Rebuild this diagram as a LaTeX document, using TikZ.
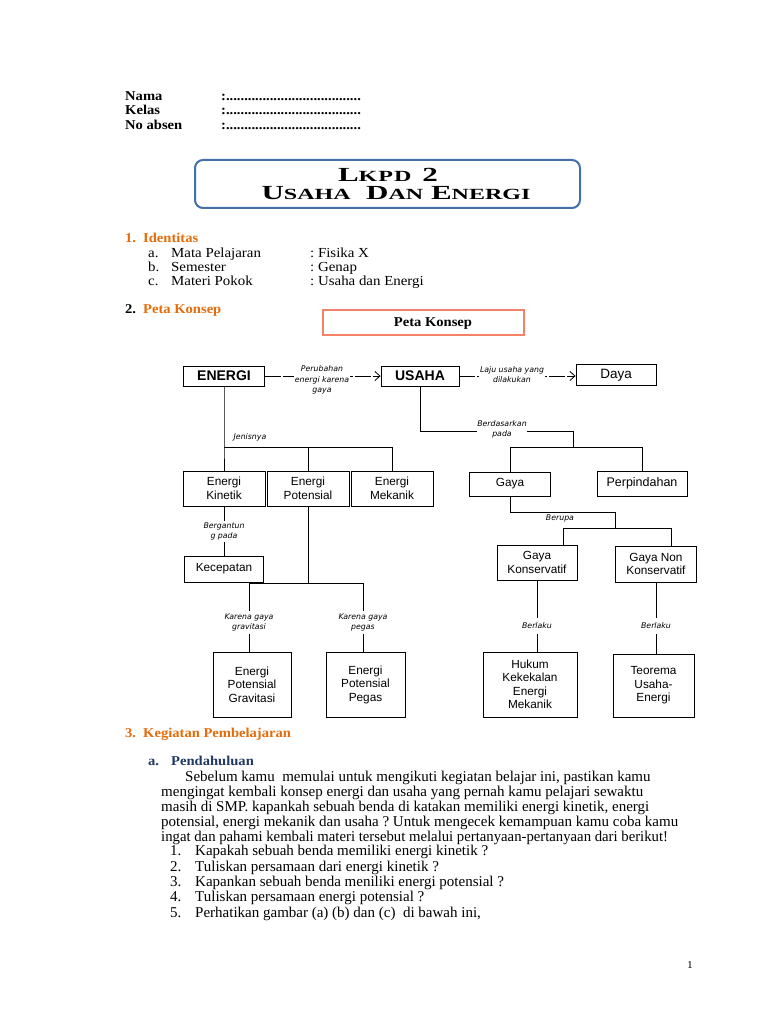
\documentclass[tikz,border=0pt]{standalone}
\usepackage{fontspec}
\setmainfont{Liberation Serif}
\newfontfamily\cambfam[FakeStretch=1.08]{Liberation Serif}
\newfontfamily\copperfam[FakeStretch=1.55]{Liberation Serif}
\newfontfamily\arialfam{Liberation Sans}
\newfontfamily\verdfam{DejaVu Sans}
\usetikzlibrary{arrows.meta}
\definecolor{orng}{HTML}{E46C0A}
\definecolor{dblue}{HTML}{1F3864}
\definecolor{tblue}{HTML}{4470A8}
\definecolor{salmon}{HTML}{F4826A}
\newcommand\cpL[1]{{\fontsize{20}{20}\selectfont #1}}
\newcommand\cpS[1]{{\fontsize{15.5}{15.5}\selectfont #1}}
\frenchspacing
\begin{document}
\begin{tikzpicture}[x=1pt,y=-1pt,
  hdr/.style={font={\fontsize{13.5}{16}\selectfont\cambfam\bfseries}, inner sep=0pt, anchor=base west},
  camb/.style={font={\fontsize{13.8}{16}\selectfont\cambfam}, inner sep=0pt, anchor=base west},
  txt/.style={font={\fontsize{15}{18}\selectfont}, inner sep=0pt, anchor=base west},
  box/.style={draw=black, line width=0.9pt, inner sep=0pt, align=center, fill=white,
    font={\fontsize{11.8}{13.5}\selectfont\arialfam}},
  lbl/.style={font={\fontsize{7.8}{10.5}\selectfont\verdfam\itshape}, align=center, inner sep=1pt},
  conn/.style={line width=0.8pt},
  darrow/.style={line width=0.8pt, dash pattern=on 16pt off 2pt, -{Straight Barb[length=5pt,width=9pt]}}
]
\useasboundingbox (0,0) rectangle (768,1024);
\fill[white] (0,0) rectangle (768,1024);

% header fields
\node[hdr] (nama) at (125,101) {Nama};
\node[hdr] (kelas) at (125,115) {Kelas};
\node[hdr] (absen) at (125,130) {No absen};
\node[hdr] (d1) at (221,101) {:.....................................};
\node[hdr] (d2) at (221,115) {:.....................................};
\node[hdr] (d3) at (221,130) {:.....................................};

% title
\node[draw=tblue, line width=2pt, rounded corners=8pt, minimum width=385pt, minimum height=48pt, fill=white] (title) at (387.5,184) {};
\node[inner sep=0pt, anchor=base, font=\copperfam\bfseries] (t1) at (388,182) {\cpL{L}\cpS{K\kern1ptP\kern1ptD}\cpL{\ \,}\cpL{2}};
\node[inner sep=0pt, anchor=base, font=\copperfam\bfseries] (t2) at (396,200) {\cpL{U}\cpS{SAHA}\cpL{\ \ }\cpL{D}\cpS{AN}\cpL{ }\cpL{E}\cpS{NERGI}};

% identitas
\node[hdr, text=orng] (n1) at (125,242) {1.};
\node[hdr, text=orng] (idt) at (143,242) {Identitas};
\node[camb] (ia) at (148,257) {a.};
\node[camb] (ib) at (148,271) {b.};
\node[camb] (ic) at (148,285) {c.};
\node[camb] (ia2) at (171,257) {Mata Pelajaran};
\node[camb] (ib2) at (171,271) {Semester};
\node[camb] (ic2) at (171,285) {Materi Pokok};
\node[camb] (ia3) at (310,257) {: Fisika X};
\node[camb] (ib3) at (310,271) {: Genap};
\node[camb] (ic3) at (310,285) {: Usaha dan Energi};

\node[hdr] (n2) at (125,313) {2.};
\node[hdr, text=orng] (pk) at (143,313) {Peta Konsep};
\node[draw=salmon, line width=1.8pt, minimum width=201pt, minimum height=25pt, inner sep=0pt] (pkbox) at (423.5,322.5) {};
\node[inner sep=0pt, font={\fontsize{13.5}{16}\selectfont\cambfam\bfseries}] (pkt) at (433,323.5) {Peta Konsep};

% concept map boxes
\node[box, minimum width=81pt, minimum height=20pt, font={\fontsize{14}{16}\selectfont\arialfam\bfseries}] (energi) at (224,376) {ENERGI};
\node[box, minimum width=78pt, minimum height=20pt, font={\fontsize{14}{16}\selectfont\arialfam\bfseries}] (usaha) at (420,376) {USAHA};
\node[box, minimum width=80pt, minimum height=21pt, font={\fontsize{13.5}{16}\selectfont\arialfam}] (daya) at (616,375) {Daya};

\node[box, minimum width=82pt, minimum height=35pt] (kinetik) at (224,488.5) {Energi\\Kinetik};
\node[box, minimum width=82pt, minimum height=35pt] (potensial) at (308,488.5) {Energi\\Potensial};
\node[box, minimum width=82pt, minimum height=35pt] (mekanik) at (392,488.5) {Energi\\Mekanik};
\node[box, minimum width=79pt, minimum height=26pt] (kecepatan) at (224,569) {Kecepatan};
\node[box, minimum width=78pt, minimum height=65pt] (epg) at (252,684.5) {Energi\\Potensial\\Gravitasi};
\node[box, minimum width=79pt, minimum height=65pt] (epp) at (365.5,684.5) {Energi\\Potensial\\Pegas};

\node[box, minimum width=81pt, minimum height=24pt] (gaya) at (510,484) {Gaya};
\node[box, minimum width=90pt, minimum height=25pt, font={\fontsize{12.5}{14}\selectfont\arialfam}] (perp) at (642,483.5) {Perpindahan};
\node[box, minimum width=80pt, minimum height=35pt] (gk) at (537,562.5) {Gaya\\Konservatif};
\node[box, minimum width=81pt, minimum height=36pt] (gnk) at (656,564) {Gaya Non\\Konservatif};
\node[box, minimum width=94pt, minimum height=65pt] (hukum) at (530,684.5) {Hukum\\Kekekalan\\Energi\\Mekanik};
\node[box, minimum width=81pt, minimum height=63pt] (teorema) at (653.5,685.5) {Teorema\\Usaha-\\Energi};

% junction coordinates
\coordinate (jE) at (224,447);
\coordinate (jEr) at (392,447);
\coordinate (jP) at (308,583);
\coordinate (jPl) at (249,583);
\coordinate (jPr) at (363,583);
\coordinate (jU) at (420,431);
\coordinate (jUr) at (573,431);
\coordinate (jU2) at (573,447);
\coordinate (jUl) at (510,447);
\coordinate (jUrr) at (642,447);
\coordinate (jG) at (510,512);
\coordinate (jGr) at (615,512);
\coordinate (jG2) at (615,528);
\coordinate (jGl) at (563,528);
\coordinate (jGrr) at (671,528);

% arrows
\draw[darrow] (energi.east) -- (usaha.west);
\draw[darrow] (usaha.east) -- (usaha.east -| daya.west);
\node[lbl, fill=white] (lb1) at (322,380) {Perubahan\\energi karena\\gaya};
\node[lbl, fill=white] (lb2) at (512,374.5) {Laju usaha yang\\dilakukan};

% energi tree
\draw[conn] (energi.south) -- (jE) -- (kinetik.north);
\draw[conn] (jE) -- (jEr) -- (mekanik.north);
\draw[conn] (potensial.north) -- (potensial.north |- jE);
\node[lbl] (lb3) at (250,437) {Jenisnya};

\draw[conn] (kinetik.south) -- (kecepatan.north);
\node[lbl, fill=white, inner sep=2pt] (lb4) at (224,531.5) {Bergantun\\g pada};

\draw[conn] (potensial.south) -- (jP);
\draw[conn] (jPl) -- (jPr);
\draw[conn] (jPl) -- (jPl |- epg.north);
\draw[conn] (jPr) -- (jPr |- epp.north);
\node[lbl, fill=white, inner sep=3pt] (lb5) at (249,622.5) {Karena gaya\\gravitasi};
\node[lbl, fill=white, inner sep=3pt] (lb6) at (363,622.5) {Karena gaya\\pegas};

% usaha tree
\draw[conn] (usaha.south) -- (jU) -- (jUr) -- (jU2);
\draw[conn] (jUl) -- (jUrr);
\draw[conn] (jUl) -- (gaya.north);
\draw[conn] (jUrr) -- (perp.north);
\node[lbl, fill=white, inner sep=0.5pt] (lb7) at (502,429.5) {Berdasarkan\\pada};

\draw[conn] (gaya.south) -- (jG) -- (jGr) -- (jG2);
\draw[conn] (jGl) -- (jGrr);
\draw[conn] (jGl) -- (jGl |- gk.north);
\draw[conn] (jGrr) -- (jGrr |- gnk.north);
\node[lbl] (lb8) at (560,518.5) {Berupa};

\draw[conn] (gk.south) -- (gk.south |- hukum.north);
\draw[conn] (gnk.south) -- (gnk.south |- teorema.north);
\node[lbl, fill=white, inner sep=5pt] (lb9) at (537,626) {Berlaku};
\node[lbl, fill=white, inner sep=5pt] (lb10) at (656,626) {Berlaku};

% section 3
\node[hdr, text=orng] (n3) at (125,737) {3.};
\node[hdr, text=orng] (kp) at (143,737) {Kegiatan Pembelajaran};
\node[hdr, text=dblue] (na) at (148,765) {a.};
\node[hdr, text=dblue] (pend) at (171,765) {Pendahuluan};

\node[txt] (l1) at (185,781) {Sebelum kamu\ \ memulai untuk mengikuti kegiatan belajar ini, pastikan kamu};
\node[txt] (l2) at (161,796) {mengingat kembali konsep energi dan usaha yang pernah kamu pelajari sewaktu};
\node[txt] (l3) at (161,811) {masih di SMP. kapankah sebuah benda di katakan memiliki energi kinetik, energi};
\node[txt] (l4) at (161,826) {potensial, energi mekanik dan usaha ? Untuk mengecek kemampuan kamu coba kamu};
\node[txt] (l5) at (161,841) {\scalebox{0.982}[1]{ingat dan pahami kembali materi tersebut melalui pertanyaan-pertanyaan dari berikut!}};

\node[txt] (q1n) at (170,855.5) {1.};
\node[txt] (q2n) at (170,871) {2.};
\node[txt] (q3n) at (170,886) {3.};
\node[txt] (q4n) at (170,901) {4.};
\node[txt] (q5n) at (170,917) {5.};
\node[txt] (q1) at (195,855.5) {Kapakah sebuah benda memiliki energi kinetik ?};
\node[txt] (q2) at (195,871) {Tuliskan persamaan dari energi kinetik ?};
\node[txt] (q3) at (195,886) {Kapankan sebuah benda meniliki energi potensial ?};
\node[txt] (q4) at (195,901) {Tuliskan persamaan energi potensial ?};
\node[txt] (q5) at (195,917) {Perhatikan gambar (a) (b) dan (c)\ \ di bawah ini,};

\node[inner sep=0pt, anchor=base, font={\fontsize{10.5}{12}\selectfont\cambfam}] (pg) at (690,968) {1};
\end{tikzpicture}
\end{document}
